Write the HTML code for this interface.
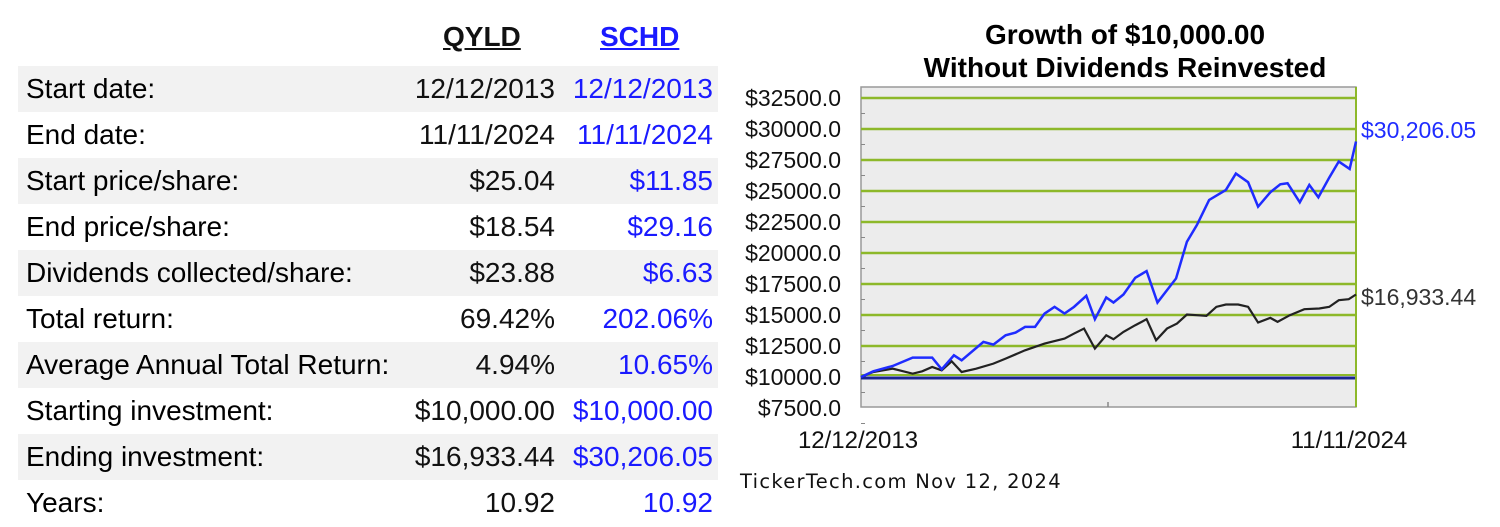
<!DOCTYPE html>
<html><head><meta charset="utf-8"><style>
body{margin:0;width:1500px;height:527px;background:#fff;overflow:hidden;font-family:"Liberation Sans",Arial,sans-serif;position:relative}
.t{position:absolute;left:18px;top:0;width:700px}
.row{position:absolute;left:0;width:700px;height:46px;font-size:28px;line-height:46px}
.row.g{background:#f2f2f2}
.row .l{position:absolute;left:8px}
.row .a{position:absolute;right:163px;color:#111}
.row .b{position:absolute;right:5px;color:#1a1aff}
.hd{position:absolute;top:21px;font-size:28px;font-weight:bold;text-decoration:underline}
</style></head><body>
<div class="t">
<span class="hd" style="left:425px;color:#111">QYLD</span>
<span class="hd" style="left:582px;color:#1a1aff">SCHD</span>
<div id="rows"></div>
</div>
<svg id="chart" width="1500" height="527" style="position:absolute;left:0;top:0"></svg>
<script>
const rowLabels=["Start date:","End date:","Start price/share:","End price/share:","Dividends collected/share:","Total return:","Average Annual Total Return:","Starting investment:","Ending investment:","Years:"];
const qyldVals=["12/12/2013","11/11/2024","$25.04","$18.54","$23.88","69.42%","4.94%","$10,000.00","$16,933.44","10.92"];
const schdVals=["12/12/2013","11/11/2024","$11.85","$29.16","$6.63","202.06%","10.65%","$10,000.00","$30,206.05","10.92"];
const rows=document.getElementById('rows');
rowLabels.forEach((lab,i)=>{
  const r=document.createElement('div');
  r.className='row'+(i%2===0?' g':'');
  r.style.top=(66+46*i)+'px';
  
  
  r.innerHTML='<span class="l">'+lab+'</span><span class="a">'+qyldVals[i]+'</span><span class="b">'+schdVals[i]+'</span>';
  rows.appendChild(r);
});

const yTicks=[7500,10000,12500,15000,17500,20000,22500,25000,27500,30000,32500];
const schdYears=[0,.27,.70,1.14,1.57,1.78,2.05,2.22,2.70,2.92,3.19,3.41,3.62,3.84,4.05,4.27,4.49,4.70,4.97,5.16,5.41,5.57,5.79,6.05,6.30,6.54,6.95,7.19,7.41,7.68,8.05,8.27,8.54,8.76,9.03,9.25,9.41,9.68,9.89,10.09,10.33,10.54,10.78,10.92];
const schdValues=[10000,10458,10889,11563,11563,10620,11751,11347,12829,12613,13368,13583,14041,14041,15119,15657,15119,15657,16546,14661,16412,16007,16654,18001,18540,16007,17947,20911,22258,24278,25086,26406,25706,23739,24898,25544,25625,24090,25490,24493,26083,27376,26783,28993];
const qyldYears=[0,.27,.70,1.14,1.35,1.57,1.78,2.00,2.22,2.54,2.92,3.19,3.62,4.05,4.49,4.70,4.92,5.16,5.41,5.57,5.79,6.05,6.30,6.51,6.75,6.97,7.19,7.41,7.62,7.84,8.05,8.32,8.54,8.76,9.03,9.19,9.46,9.78,10.11,10.33,10.54,10.76,10.92];
const qyldValues=[10000,10404,10674,10269,10458,10808,10539,11266,10404,10674,11078,11482,12155,12694,13098,13502,13906,12290,13368,13044,13637,14176,14661,12963,13906,14310,15038,14984,14930,15657,15846,15846,15657,14391,14768,14445,14984,15469,15523,15657,16196,16277,16654];
const endLabels=["$30,206.05","$16,933.44"];

const svg=document.getElementById('chart');
const NS='http://www.w3.org/2000/svg';
const X0=861,X1=1356,PT=87,PB=407;
const xs=y=>X0+(y/10.92)*(X1-X0);
const ys=v=>377-(v-10000)/2500*31;
function el(tag,attrs,txt){const e=document.createElementNS(NS,tag);for(const k in attrs)e.setAttribute(k,attrs[k]);if(txt!==undefined)e.textContent=txt;svg.appendChild(e);return e;}
let e;
e=el('text',{x:1125,y:44,'text-anchor':'middle','font-size':28,'font-weight':'bold','font-family':'Liberation Sans,sans-serif'},'Growth of $10,000.00');


e=el('text',{x:1125,y:77,'text-anchor':'middle','font-size':28,'font-weight':'bold','font-family':'Liberation Sans,sans-serif'},'Without Dividends Reinvested');


e=el('rect',{x:X0,y:PT,width:X1-X0,height:PB-PT,fill:'#ececec',stroke:'#999','stroke-width':1.5});


yTicks.forEach(v=>{
  if(v>=12500){
    e=el('line',{x1:X0,x2:X1,y1:ys(v),y2:ys(v),stroke:'#8db82a','stroke-width':2.5});
    
    
  }
  e=el('line',{x1:X0,x2:X0+4,y1:ys(v)+15.5,y2:ys(v)+15.5,stroke:'#888','stroke-width':1});
  
  
  e=el('text',{x:841,y:ys(v)+8,'text-anchor':'end','font-size':23,fill:'#111','font-family':'Liberation Sans,sans-serif'},'$'+v+'.0');
  
  
});
e=el('line',{x1:X0,x2:X1,y1:ys(10000)-2,y2:ys(10000)-2,stroke:'#8db82a','stroke-width':2});


e=el('line',{x1:X0,x2:X1,y1:ys(10000)+1,y2:ys(10000)+1,stroke:'#1a2590','stroke-width':3});


e=el('line',{x1:X1,x2:X1,y1:PT,y2:PB,stroke:'#8db82a','stroke-width':2});


e=el('line',{x1:1108,x2:1108,y1:PB-5,y2:PB,stroke:'#888','stroke-width':1.5});


e=el('polyline',{points:qyldYears.map((y,i)=>xs(y)+','+ys(qyldValues[i])).join(' '),fill:'none',stroke:'#222','stroke-width':2.2});


e=el('polyline',{points:schdYears.map((y,i)=>xs(y)+','+ys(schdValues[i])).join(' '),fill:'none',stroke:'#1f2cff','stroke-width':2.5});


e=el('text',{x:1361,y:138,'font-size':23,fill:'#1f2cff','font-family':'Liberation Sans,sans-serif'},endLabels[0]);


e=el('text',{x:1361,y:305,'font-size':23,fill:'#333','font-family':'Liberation Sans,sans-serif'},endLabels[1]);


e=el('text',{x:858,y:448,'text-anchor':'middle','font-size':24,fill:'#111','font-family':'Liberation Sans,sans-serif'},'12/12/2013');


e=el('text',{x:1349,y:448,'text-anchor':'middle','font-size':24,fill:'#111','font-family':'Liberation Sans,sans-serif'},'11/11/2024');


e=el('text',{x:740,y:488,'font-size':19.5,fill:'#111','letter-spacing':1.3,'font-family':'DejaVu Sans,sans-serif'},'TickerTech.com  Nov 12, 2024');


</script>
</body></html>
